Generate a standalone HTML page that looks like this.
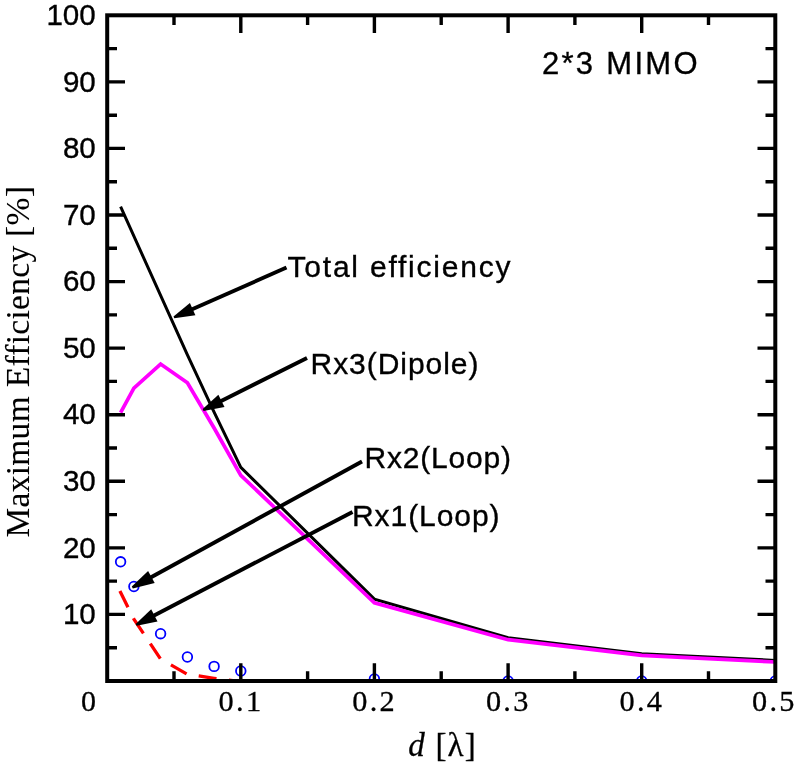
<!DOCTYPE html><html><head><meta charset="utf-8"><title>2*3 MIMO efficiency</title>
<style>html,body{margin:0;padding:0;background:#fff}svg{display:block}.sans{font-family:"Liberation Sans","DejaVu Sans",sans-serif;fill:#000;stroke:#000;stroke-width:0.35px}.serif{font-family:"Liberation Serif","DejaVu Serif",serif;fill:#000;stroke:#000;stroke-width:0.3px}</style></head><body>
<svg width="800" height="767" viewBox="0 0 800 767">
<rect width="800" height="767" fill="#fff"/>
<clipPath id="plot"><rect x="107.2" y="15.3" width="668.1" height="665.7"/></clipPath><g clip-path="url(#plot)">
<path d="M120.6,206.7 L187.4,354.8 L214.1,412.1 L240.8,467.3 L374.4,599.1 L508.1,637.7 L641.7,653.7 L775.3,660.4" stroke="#000" stroke-width="3" fill="none"/>
<path d="M120.6,412.7 L133.9,388.1 L160.6,364.1 L187.4,382.8 L214.1,428.0 L240.8,475.3 L374.4,602.8 L508.1,639.7 L641.7,655.4 L775.3,662.0" stroke="#ff00ff" stroke-width="3.7" fill="none" stroke-linejoin="miter"/>
<path d="M119.9,591.1 L133.9,619.1 L160.6,659.0 L187.4,674.3 L214.1,678.3 L240.8,681.7" stroke="#ff0000" stroke-width="3.3" fill="none" stroke-dasharray="18 12.4"/>
<circle cx="120.6" cy="561.8" r="4.8" stroke="#0000ff" stroke-width="1.8" fill="none"/>
<circle cx="133.9" cy="586.5" r="4.8" stroke="#0000ff" stroke-width="1.8" fill="none"/>
<circle cx="160.6" cy="633.7" r="4.8" stroke="#0000ff" stroke-width="1.8" fill="none"/>
<circle cx="187.4" cy="657.0" r="4.8" stroke="#0000ff" stroke-width="1.8" fill="none"/>
<circle cx="214.1" cy="666.4" r="4.8" stroke="#0000ff" stroke-width="1.8" fill="none"/>
<circle cx="240.8" cy="671.0" r="4.8" stroke="#0000ff" stroke-width="1.8" fill="none"/>
<circle cx="374.4" cy="679.0" r="4.8" stroke="#0000ff" stroke-width="1.8" fill="none"/>
<circle cx="508.1" cy="681.0" r="4.8" stroke="#0000ff" stroke-width="1.8" fill="none"/>
<circle cx="641.7" cy="681.0" r="4.8" stroke="#0000ff" stroke-width="1.8" fill="none"/>
<circle cx="775.3" cy="681.0" r="4.8" stroke="#0000ff" stroke-width="1.8" fill="none"/>
</g>
<path d="M107.2,647.7h9.8M775.3,647.7h-9.8M107.2,614.4h17.8M775.3,614.4h-17.8M107.2,581.1h9.8M775.3,581.1h-9.8M107.2,547.9h17.8M775.3,547.9h-17.8M107.2,514.6h9.8M775.3,514.6h-9.8M107.2,481.3h17.8M775.3,481.3h-17.8M107.2,448.0h9.8M775.3,448.0h-9.8M107.2,414.7h17.8M775.3,414.7h-17.8M107.2,381.4h9.8M775.3,381.4h-9.8M107.2,348.1h17.8M775.3,348.1h-17.8M107.2,314.9h9.8M775.3,314.9h-9.8M107.2,281.6h17.8M775.3,281.6h-17.8M107.2,248.3h9.8M775.3,248.3h-9.8M107.2,215.0h17.8M775.3,215.0h-17.8M107.2,181.7h9.8M775.3,181.7h-9.8M107.2,148.4h17.8M775.3,148.4h-17.8M107.2,115.2h9.8M775.3,115.2h-9.8M107.2,81.9h17.8M775.3,81.9h-17.8M107.2,48.6h9.8M775.3,48.6h-9.8M174.0,681.0v-9.8M174.0,15.3v9.8M240.8,681.0v-17.8M240.8,15.3v17.8M307.6,681.0v-9.8M307.6,15.3v9.8M374.4,681.0v-17.8M374.4,15.3v17.8M441.2,681.0v-9.8M441.2,15.3v9.8M508.1,681.0v-17.8M508.1,15.3v17.8M574.9,681.0v-9.8M574.9,15.3v9.8M641.7,681.0v-17.8M641.7,15.3v17.8M708.5,681.0v-9.8M708.5,15.3v9.8" stroke="#000" stroke-width="3.4" fill="none"/>
<rect x="107.2" y="15.3" width="668.1" height="665.7" fill="none" stroke="#000" stroke-width="4"/>
<path d="M286.5,267.5L189.9,310.3" stroke="#000" stroke-width="3.9" fill="none"/>
<path d="M173.5,316.5L189.9,302.9L195.4,315.3L174.3,318.3Z" fill="#000"/>
<path d="M307.0,358.0L218.7,402.2" stroke="#000" stroke-width="3.9" fill="none"/>
<path d="M202.7,409.1L218.4,394.7L224.5,406.9L203.5,410.9Z" fill="#000"/>
<path d="M362.0,461.5L148.8,578.5" stroke="#000" stroke-width="3.9" fill="none"/>
<path d="M131.8,586.6L148.1,571.1L154.7,583.0L132.8,588.4Z" fill="#000"/>
<path d="M352.5,512.0L151.7,616.7" stroke="#000" stroke-width="3.9" fill="none"/>
<path d="M135.7,623.9L151.2,609.3L157.5,621.4L136.7,625.7Z" fill="#000"/>
<text class="sans" x="95.8" y="624.0" font-size="29.6" text-anchor="end">10</text>
<text class="sans" x="95.8" y="557.5" font-size="29.6" text-anchor="end">20</text>
<text class="sans" x="95.8" y="490.9" font-size="29.6" text-anchor="end">30</text>
<text class="sans" x="95.8" y="424.3" font-size="29.6" text-anchor="end">40</text>
<text class="sans" x="95.8" y="357.8" font-size="29.6" text-anchor="end">50</text>
<text class="sans" x="95.8" y="291.2" font-size="29.6" text-anchor="end">60</text>
<text class="sans" x="95.8" y="224.6" font-size="29.6" text-anchor="end">70</text>
<text class="sans" x="95.8" y="158.0" font-size="29.6" text-anchor="end">80</text>
<text class="sans" x="95.8" y="91.5" font-size="29.6" text-anchor="end">90</text>
<text class="sans" x="95.8" y="24.9" font-size="29.6" text-anchor="end">100</text>
<text class="serif" x="96" y="710.5" font-size="30" text-anchor="end">0</text>
<text class="serif" x="218.6" y="710.7" font-size="30.3" text-anchor="start" textLength="42.5" lengthAdjust="spacing">0.1</text>
<text class="serif" x="352.2" y="710.7" font-size="30.3" text-anchor="start" textLength="42.5" lengthAdjust="spacing">0.2</text>
<text class="serif" x="485.9" y="710.7" font-size="30.3" text-anchor="start" textLength="42.5" lengthAdjust="spacing">0.3</text>
<text class="serif" x="619.5" y="710.7" font-size="30.3" text-anchor="start" textLength="42.5" lengthAdjust="spacing">0.4</text>
<text class="serif" x="794.5" y="710.7" font-size="30.3" text-anchor="end" textLength="42.5" lengthAdjust="spacing">0.5</text>
<text class="sans" x="542" y="74.3" font-size="31" text-anchor="start" textLength="155.5" lengthAdjust="spacing">2*3 MIMO</text>
<text class="sans" x="287.5" y="277" font-size="30" text-anchor="start" textLength="223" lengthAdjust="spacing">Total efficiency</text>
<text class="sans" x="310.5" y="374" font-size="30" text-anchor="start" textLength="168" lengthAdjust="spacing">Rx3(Dipole)</text>
<text class="sans" x="364.5" y="468" font-size="30" text-anchor="start" textLength="146.5" lengthAdjust="spacing">Rx2(Loop)</text>
<text class="sans" x="352" y="526.3" font-size="30" text-anchor="start" textLength="147.5" lengthAdjust="spacing">Rx1(Loop)</text>
<text class="serif" font-size="33.5" style="stroke-width:0.1px" transform="translate(29.2,537.6) rotate(-90)" textLength="351.5" lengthAdjust="spacing">Maximum Efficiency [%]</text>
<text class="serif" font-size="33" x="408.3" y="756.3" textLength="67.5" lengthAdjust="spacing"><tspan font-style="italic">d</tspan> [λ]</text>
</svg></body></html>
